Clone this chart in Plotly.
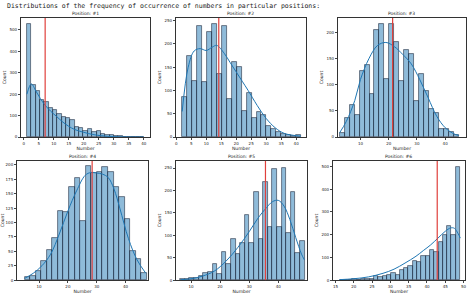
import plotly.graph_objects as go
from plotly.subplots import make_subplots

W, H = 474, 297

title_text = "Distributions of the frequency of occurrence of numbers in particular positions:"
panel_titles = ["Position: #1", "Position: #2", "Position: #3",
                "Position: #4", "Position: #5", "Position: #6"]

# histogram bins: first edge, bin width, counts
p1_start, p1_width = 1.0, 1.45
p1_counts = [530, 245, 215, 175, 165, 135, 125, 110, 95, 90, 78, 47, 42, 30, 38,
             22, 28, 15, 10, 8, 5, 4, 3, 2, 2, 1, 1]
p2_start, p2_width = 2.0, 1.65
p2_counts = [86, 174, 121, 238, 118, 227, 244, 136, 238, 82, 162, 150, 57, 95,
             41, 54, 48, 25, 18, 11, 7, 4, 3, 5]
p3_start, p3_width = 2.6, 1.76
p3_counts = [8, 37, 62, 43, 126, 138, 82, 205, 217, 111, 216, 183, 108, 167, 160,
             69, 120, 88, 54, 46, 16, 15, 10, 4]
p4_start, p4_width = 4.9, 1.93
p4_counts = [5, 8, 16, 33, 52, 74, 120, 118, 162, 177, 103, 198, 186, 188, 196,
             188, 161, 144, 106, 51, 37, 12]
p5_start, p5_width = 6.26, 1.585
p5_counts = [2, 3, 4, 6, 10, 16, 19, 36, 14, 63, 36, 93, 58, 82, 146, 82, 196, 92,
             220, 118, 249, 118, 251, 106, 196, 60, 88]
p6_start, p6_width = 16.1, 1.175
p6_counts = [2, 1, 3, 5, 3, 5, 7, 5, 18, 12, 18, 25, 30, 25, 45, 52, 62, 85, 80,
             105, 108, 135, 125, 170, 200, 240, 200, 498]

# KDE curves
p1_kde_x = [1, 2.5, 4, 5.5, 7, 9, 11, 13, 15, 17, 20, 23, 26, 30, 35, 40]
p1_kde_y = [200, 248, 215, 180, 150, 120, 95, 70, 50, 35, 22, 12, 6, 2, 0.5, 0.2]
p2_kde_x = [2, 4, 6, 8, 10, 12, 13.5, 16, 18, 20, 22, 24, 27, 30, 33, 36, 40, 41.6]
p2_kde_y = [55, 150, 185, 190, 186, 193, 197, 180, 160, 140, 120, 100, 68, 40, 20, 8, 3, 2]
p3_kde_x = [2.6, 5, 8, 10, 13, 16, 19, 22, 25, 28, 31, 34, 37, 40, 42.8, 44.8]
p3_kde_y = [8, 30, 70, 110, 150, 175, 181, 173, 158, 140, 110, 75, 40, 18, 7, 3]
p4_kde_x = [5, 8, 11, 14, 17, 20, 23, 26, 28, 30, 32, 34, 36, 38, 41, 44, 47]
p4_kde_y = [3, 12, 25, 45, 80, 120, 155, 182, 187, 186, 184, 178, 158, 125, 72, 35, 12]
p5_kde_x = [6.5, 10, 14, 18, 22, 26, 30, 33, 36, 38, 40, 42, 44, 46, 48, 49]
p5_kde_y = [1, 3, 9, 20, 42, 72, 108, 138, 162, 175, 178, 165, 135, 95, 58, 45]
p6_kde_x = [16.1, 20, 24, 28, 31, 34, 37, 39, 41, 43, 45, 46.5, 47.5, 48.5, 49.1]
p6_kde_y = [2, 6, 14, 30, 48, 75, 105, 130, 155, 185, 215, 230, 228, 205, 185]

# mean of each position (red line)
means = [7.1, 14.2, 21.4, 28.4, 35.6, 42.8]

starts = [p1_start, p2_start, p3_start, p4_start, p5_start, p6_start]
widths = [p1_width, p2_width, p3_width, p4_width, p5_width, p6_width]
counts = [p1_counts, p2_counts, p3_counts, p4_counts, p5_counts, p6_counts]
kde_x = [p1_kde_x, p2_kde_x, p3_kde_x, p4_kde_x, p5_kde_x, p6_kde_x]
kde_y = [p1_kde_y, p2_kde_y, p3_kde_y, p4_kde_y, p5_kde_y, p6_kde_y]

x_ticks = [list(range(0, 41, 5)), list(range(0, 41, 5)), [10, 20, 30, 40],
           [10, 20, 30, 40], [10, 20, 30, 40, 50], list(range(15, 51, 5))]
y_ticks = [list(range(0, 501, 100)), list(range(0, 251, 50)), list(range(0, 201, 50)),
           list(range(0, 201, 25)), list(range(0, 251, 50)), list(range(0, 501, 100))]

# layout (pixels)
x_ranges = [[-1.0, 42.1], [-0.1, 43.3], [2.0, 47.4], [2.3, 47.8], [4.8, 49.9], [14.3, 50.4]]
y_ranges = [[0, 556], [0, 256], [0, 228], [0, 207], [0, 266], [0, 525]]
px_x = [[20, 150], [176, 307], [339, 468], [16, 148], [176, 308], [334, 467]]
px_y = [[18, 138], [18, 138], [18, 138], [162, 282], [162, 282], [162, 282]]

fig = make_subplots(rows=2, cols=3)

bar_fill = "rgba(31,119,180,0.5)"
edge = "rgba(20,30,50,0.9)"
kde_color = "#1f77b4"

for i in range(6):
    r, c = i // 3 + 1, i % 3 + 1
    centers = [starts[i] + widths[i] * (k + 0.5) for k in range(len(counts[i]))]
    fig.add_trace(go.Bar(x=centers, y=counts[i], width=widths[i],
                         marker=dict(color=bar_fill, line=dict(color=edge, width=0.6)),
                         showlegend=False, hoverinfo="x+y"), row=r, col=c)
    fig.add_trace(go.Scatter(x=kde_x[i], y=kde_y[i], mode="lines",
                             line=dict(color=kde_color, width=1, shape="spline"),
                             showlegend=False), row=r, col=c)
    fig.add_vline(x=means[i], line=dict(color="#e0403c", width=1.2), row=r, col=c)

    ax = "" if i == 0 else str(i + 1)
    fig.layout["xaxis" + ax].update(
        domain=[px_x[i][0] / W, px_x[i][1] / W], range=x_ranges[i],
        tickvals=x_ticks[i], ticks="outside", ticklen=2, tickwidth=0.6,
        tickfont=dict(size=4, family="DejaVu Sans", color="#222"),
        showline=True, mirror=True, linecolor="#333", linewidth=0.8,
        showgrid=False, zeroline=False,
        title=dict(text="Number", font=dict(size=4.5, family="DejaVu Sans", color="#222"), standoff=2))
    fig.layout["yaxis" + ax].update(
        domain=[1 - px_y[i][1] / H, 1 - px_y[i][0] / H], range=y_ranges[i],
        tickvals=y_ticks[i], ticks="outside", ticklen=2, tickwidth=0.6,
        tickfont=dict(size=4, family="DejaVu Sans", color="#222"),
        showline=True, mirror=True, linecolor="#333", linewidth=0.8,
        showgrid=False, zeroline=False,
        title=dict(text="Count", font=dict(size=4.5, family="DejaVu Sans", color="#222"), standoff=2))

    fig.add_annotation(text=panel_titles[i], xref="paper", yref="paper",
                       x=(px_x[i][0] + px_x[i][1]) / 2 / W, y=1 - (px_y[i][0] + 0.5) / H,
                       xanchor="center", yanchor="bottom", showarrow=False,
                       font=dict(size=4.5, family="DejaVu Sans", color="#222"))

fig.add_annotation(text=title_text, xref="paper", yref="paper",
                   x=4 / W, y=1 - 6 / H, xanchor="left", yanchor="middle", showarrow=False,
                   font=dict(size=6.5, family="DejaVu Sans Mono", color="#222"))

fig.update_layout(width=W, height=H, margin=dict(l=0, r=0, t=0, b=0),
                  paper_bgcolor="white", plot_bgcolor="white", bargap=0)

fig.write_html("out.html")
